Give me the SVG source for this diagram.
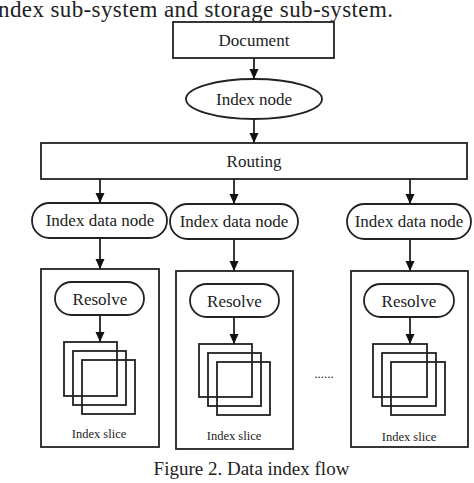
<svg xmlns="http://www.w3.org/2000/svg" width="474" height="483" viewBox="0 0 474 483" font-family="'Liberation Serif', 'Times New Roman', serif">
<style>
.s{fill:#fff;stroke:#222;stroke-width:1.8}
.t{fill:#222;text-anchor:middle;font-family:'Liberation Serif',serif}
.lbl{font-size:17px}
.sml{font-size:12.5px}
.c{stroke:#222;stroke-width:1.8;fill:none;marker-end:url(#ah)}
.q{fill:none;stroke:#222;stroke-width:1.8}
</style>
<defs>
<marker id="ah" markerUnits="userSpaceOnUse" markerWidth="10" markerHeight="10" refX="10" refY="4.5" orient="auto">
<path d="M0,0 L10,4.5 L0,9 z" fill="#111"/>
</marker>
</defs>
<rect width="474" height="483" fill="#fff"/>
<text x="-2" y="17" font-family="'Liberation Serif', serif" font-size="23" fill="#222" textLength="395">ndex sub-system and storage sub-system.</text>

<g id="document">
<rect class="s" x="173" y="22" width="161" height="36"/>
<text class="t lbl" x="254" y="46" font-family="'Liberation Serif', serif">Document</text>
</g>
<g id="index-node">
<ellipse class="s" cx="254" cy="99" rx="68" ry="20"/>
<text class="t lbl" x="254" y="105" font-family="'Liberation Serif', serif">Index node</text>
</g>
<g id="routing">
<rect class="s" x="41" y="143" width="426" height="36"/>
<text class="t lbl" x="254" y="167" font-family="'Liberation Serif', serif">Routing</text>
</g>

<g id="data-node-1">
<rect class="s" x="32" y="203" width="135" height="35" rx="17.5"/>
<text class="t lbl" x="100" y="226" font-family="'Liberation Serif', serif">Index data node</text>
</g>
<g id="data-node-2">
<rect class="s" x="170" y="204" width="128" height="35" rx="17.5"/>
<text class="t lbl" x="234" y="227" font-family="'Liberation Serif', serif">Index data node</text>
</g>
<g id="data-node-3">
<rect class="s" x="347" y="204" width="124" height="35" rx="17.5"/>
<text class="t lbl" x="409" y="227" font-family="'Liberation Serif', serif">Index data node</text>
</g>

<g id="slice-box-1">
<rect class="s" x="41" y="269" width="118" height="178"/>
<rect class="s" x="55" y="282" width="89" height="33" rx="16.5"/>
<text class="t lbl" x="100" y="305" font-family="'Liberation Serif', serif">Resolve</text>
<rect class="q" x="64" y="342" width="53" height="54"/>
<rect class="q" x="73" y="351" width="53" height="54"/>
<rect class="q" x="82" y="360" width="53" height="54"/>
<text class="t sml" x="99" y="438" font-family="'Liberation Serif', serif">Index slice</text>
</g>
<g id="slice-box-2">
<rect class="s" x="176" y="271" width="117" height="178"/>
<rect class="s" x="190" y="284" width="89" height="33" rx="16.5"/>
<text class="t lbl" x="234.5" y="307" font-family="'Liberation Serif', serif">Resolve</text>
<rect class="q" x="199" y="344" width="53" height="53"/>
<rect class="q" x="208" y="353" width="53" height="53"/>
<rect class="q" x="217" y="362" width="53" height="53"/>
<text class="t sml" x="234" y="440" font-family="'Liberation Serif', serif">Index slice</text>
</g>
<g id="slice-box-3">
<rect class="s" x="351" y="271" width="117" height="176"/>
<rect class="s" x="364" y="284" width="90" height="33" rx="16.5"/>
<text class="t lbl" x="409" y="307" font-family="'Liberation Serif', serif">Resolve</text>
<rect class="q" x="373" y="344" width="54" height="53"/>
<rect class="q" x="382" y="353" width="54" height="53"/>
<rect class="q" x="391" y="362" width="54" height="53"/>
<text class="t sml" x="409" y="441" font-family="'Liberation Serif', serif">Index slice</text>
</g>

<text class="t" x="324" y="378" font-size="13" font-family="'Liberation Serif', serif">......</text>

<g id="connectors">
<line class="c" x1="254" y1="58" x2="254" y2="79"/>
<line class="c" x1="254" y1="119" x2="254" y2="143"/>
<line class="c" x1="100" y1="179" x2="100" y2="203"/>
<line class="c" x1="234" y1="179" x2="234" y2="204"/>
<line class="c" x1="410" y1="179" x2="410" y2="204"/>
<line class="c" x1="100" y1="238" x2="100" y2="269"/>
<line class="c" x1="234" y1="239" x2="234" y2="271"/>
<line class="c" x1="410" y1="239" x2="410" y2="271"/>
<line class="c" x1="100" y1="315" x2="100" y2="342"/>
<line class="c" x1="234" y1="317" x2="234" y2="344"/>
<line class="c" x1="410" y1="317" x2="410" y2="344"/>
</g>

<text class="t" x="251.5" y="475" font-size="19" font-family="'Liberation Serif', serif">Figure 2. Data index flow</text>
</svg>
